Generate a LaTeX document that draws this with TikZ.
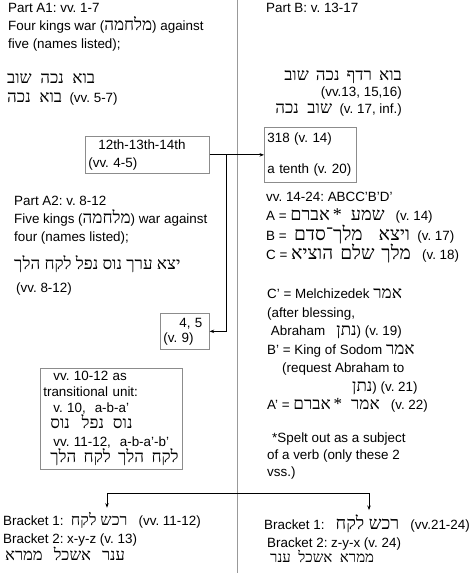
\documentclass[tikz,border=0pt]{standalone}
\usepackage{fontspec}
\setmainfont{Liberation Sans}
\newfontfamily\hebfont[Script=Hebrew]{Liberation Serif}
\TeXXeTstate=1
\usetikzlibrary{positioning,arrows.meta}
\newcommand{\heb}[1]{{\fontsize{17}{18}\hebfont\beginR #1\endR}}
\newcommand{\hebsz}[2]{{\fontsize{#1}{18}\hebfont\beginR #2\endR}}

\begin{document}
\frenchspacing
\begin{tikzpicture}[x=1pt,y=-1pt,
  txt/.style={anchor=base west,inner sep=0pt,align=left,font=\fontsize{13.4}{18}\selectfont},
  box/.style={draw=black!45,line width=0.7pt,inner xsep=3pt,inner ysep=0pt,
    anchor=north west,align=left,font=\fontsize{13.4}{18}\selectfont},
  conn/.style={line width=0.9pt,-{Stealth[length=4.5pt,width=3.5pt]}}]
\useasboundingbox (0,0) rectangle (474,573);
\draw[black!40,line width=0.7pt] (237,0) -- (237,573);

% Part A (left column)
\node[txt] (partA1) at (8,48) {Part A1: vv. 1-7\\Four kings war (\heb{מלחמה}) against\\five (names listed);};
\node[txt] (verbsA1) at (7,83) {\heb{בוא\ \ נכה\ \ שוב}};
\node[txt] (versA1) at (7,102) {\heb{בוא\ \ נכה}\ \ (vv. 5-7)};
\node[box,text width=118pt,minimum height=37pt] (dates) at (85,136) {\hspace*{10pt}12th-13th-14th\\(vv. 4-5)};
\node[txt] (partA2) at (14,241) {Part A2: v. 8-12\\Five kings (\heb{מלחמה}) war against\\four (names listed);};
\node[txt] (verbsA2) at (14,269) {\heb{יצא\ ערך\ נוס\ נפל\ לקח\ הלך}};
\node[txt] (versA2) at (16,292) {(vv. 8-12)};
\node[box,text width=43pt,minimum height=36pt] (four) at (160,313) {\hspace*{16pt}4, 5\\[-3pt](v. 9)};
\node[box,text width=136pt,minimum height=101pt,font=\fontsize{13.4}{16}\selectfont] (trans) at (40,368)
  {\hspace*{10pt}vv. 10-12 as\\transitional unit:\\\hspace*{10pt}v. 10,\ \ a-b-a'\\
   \hspace*{7pt}\heb{נוס\ \ נפל\ \ \,נוס}\\[2pt]\hspace*{10pt}vv. 11-12,\ \ a-b-a'-b'\\
   \hspace*{7pt}\heb{לקח\ \,הלך\ \,לקח\ \,הלך}};

% Part B (right column)
\node[txt] (partB) at (266,12) {Part B: v. 13-17};
\node[txt,anchor=base east] (verbsB) at (402,80) {\heb{בוא\ \,רדף\ \,נכה\ \,שוב}};
\node[txt,anchor=base east] (versB) at (402,96) {(vv.13, 15,16)};
\node[txt,anchor=base east] (infB) at (402,113) {\heb{שוב\ \ נכה}\ \ (v. 17, inf.)};
\node[box,text width=86pt,minimum height=55pt] (tenth) at (264,127) {318 (v. 14)\\[13pt]a tenth (v. 20)};
\node[txt,font=\fontsize{13.4}{19.3}\selectfont] (abc) at (266,259.5)
  {vv. 14-24: ABCC'B'D'\\A = \hebsz{18}{שמע\hspace{9pt}*\,אברם}\ \ \ (v. 14)\\
   B = \ \hebsz{19}{ויצא\hspace{16pt}מלך־סדם}\ \ (v. 17)\\
   C = \hebsz{19}{מלך\hspace{7pt}שלם\hspace{7pt}הוציא}\ \ \ (v. 18)};
\node[txt,font=\fontsize{13.4}{18.5}\selectfont] (cba) at (267,409.5)
  {C' = Melchizedek \heb{אמר}\\(after blessing,\\\ Abraham\ \ \ \heb{נתן}) (v. 19)\\
   B' = King of Sodom \heb{אמר}\\\hspace*{15pt}(request Abraham to\\\hspace*{85pt}\heb{נתן}) (v. 21)\\
   A' = \heb{אמר\hspace{9pt}*\,אברם}\ \ \ (v. 22)};
\node[txt,font=\fontsize{13.4}{17}\selectfont] (note) at (267,476.5)
  {\hspace*{5pt}*Spelt out as a subject\\of a verb (only these 2\\vss.)};

% brackets
\node[txt] (bktL) at (3,543) {Bracket 1:\ \ \hebsz{16}{רכש\ לקח}\ \ \ (vv. 11-12)\\Bracket 2: x-y-z (v. 13)};
\node[txt] (bktLh) at (5,560) {\hebsz{16.5}{ענר\ \ \,אשכל\ \ \,ממרא}};
\node[txt] (bktR) at (264,547) {Bracket 1:\ \ \ \hebsz{18}{רכש\ לקח}\ \ \ (vv.21-24)\\\hspace*{3pt}Bracket 2: z-y-x (v. 24)};
\node[txt] (bktRh) at (270,562) {\hebsz{15}{ממרא\ \ אשכל\ \ ענר}};

% connectors
\draw[conn] (dates.east) -- (dates.east -| tenth.west);
\path (dates.east) ++(17,0) coordinate (split);
\draw[conn] (split) |- (four.east);
\coordinate (forkL) at (107,493);
\coordinate (forkR) at (369,493);
\draw[conn,shorten >=4pt] (forkR) -- (forkL) -- (forkL |- bktL.north);
\draw[conn,shorten >=4pt] (forkL) -- (forkR) -- (forkR |- bktR.north);
\end{tikzpicture}
\end{document}
